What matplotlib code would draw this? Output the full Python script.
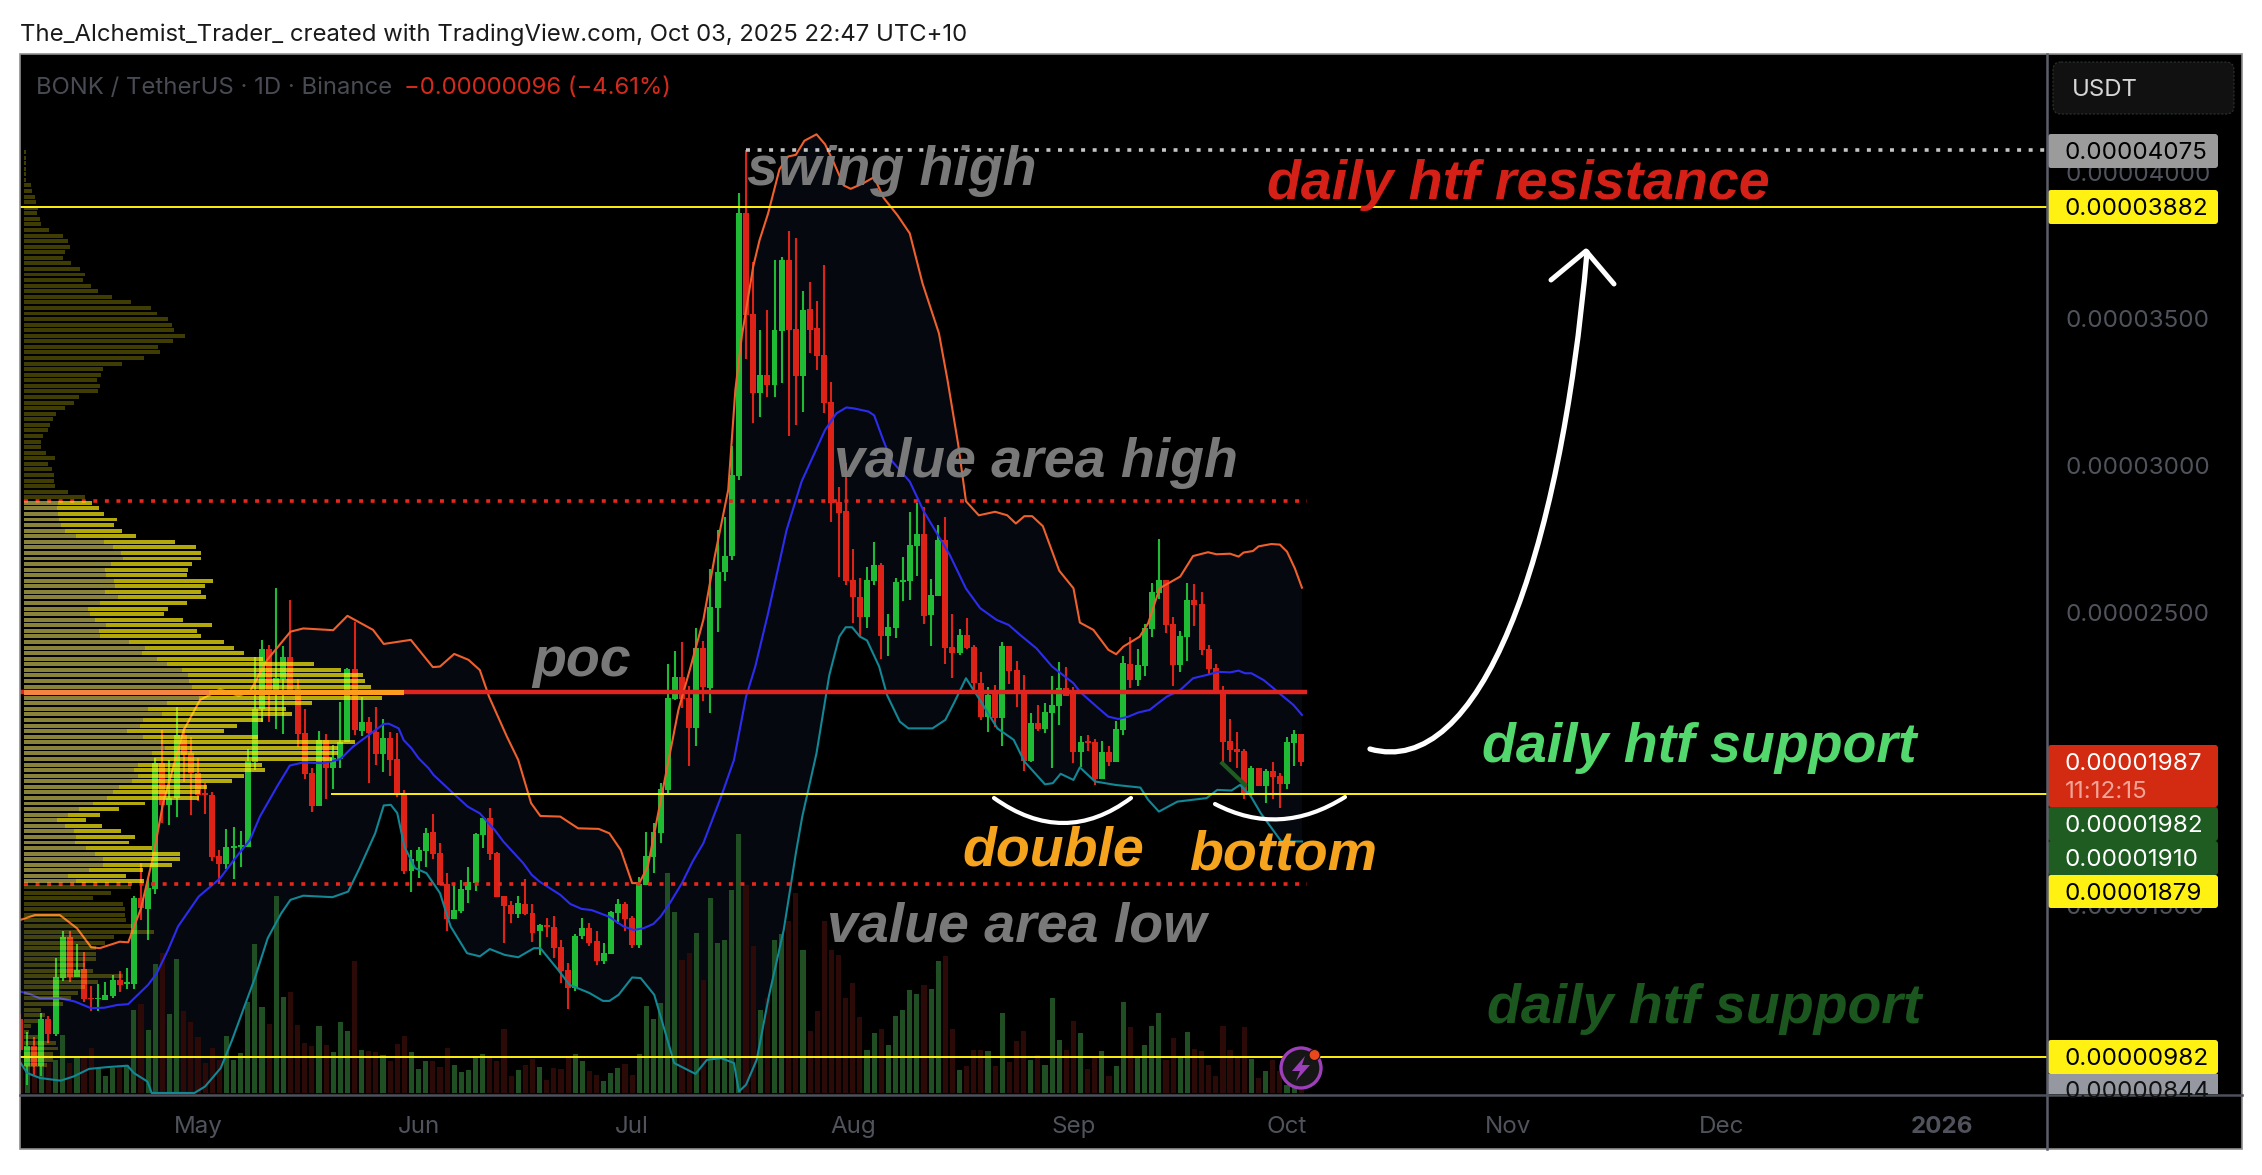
import matplotlib
matplotlib.use('Agg')
import matplotlib.pyplot as plt
import numpy as np
from matplotlib.patches import Rectangle, FancyBboxPatch, PathPatch, Circle, Polygon
from matplotlib.path import Path

# daily candles, price in units of 1e-5 USDT, first one is Apr 6
opens = [1.112,0.951,1.019,0.951,1.112,1.059,1.250,1.390,1.256,1.281,
         1.184,1.179,1.176,1.190,1.245,1.232,1.231,1.524,1.487,1.555,
         1.986,1.841,1.864,2.080,2.018,1.950,1.881,1.876,1.668,1.640,
         1.696,1.699,1.697,1.988,2.168,2.374,2.234,2.271,2.345,2.237,
         2.086,1.950,1.838,2.063,1.969,1.998,2.055,2.305,2.094,2.125,
         2.091,2.016,2.069,1.997,1.881,1.617,1.651,1.685,1.748,1.678,
         1.572,1.453,1.480,1.552,1.577,1.739,1.797,1.679,1.531,1.500,
         1.470,1.504,1.472,1.410,1.432,1.425,1.356,1.279,1.218,1.395,
         1.422,1.378,1.310,1.333,1.473,1.504,1.456,1.364,1.570,1.664,
         1.745,1.893,2.204,2.278,2.206,2.103,2.378,2.240,2.514,2.635,
         2.692,2.964,3.862,3.517,3.249,3.309,3.275,3.459,3.701,3.466,
         3.306,3.534,3.469,3.377,3.217,2.876,2.845,2.610,2.552,2.483,
         2.606,2.661,2.419,2.446,2.603,2.606,2.726,2.766,2.490,2.555,
         2.746,2.382,2.359,2.422,2.381,2.257,2.143,2.220,2.139,2.384,
         2.302,2.232,1.992,2.122,2.101,2.156,2.180,2.241,2.234,2.023,
         2.060,2.057,1.931,2.023,1.989,2.098,2.323,2.268,2.316,2.442,
         2.565,2.609,2.459,2.319,2.415,2.541,2.527,2.374,2.309,2.227,
         2.060,2.033,2.026,1.879,1.968,1.907,1.958,1.941,1.913,2.053,
         2.084]
closes = [1.006,1.019,0.951,1.112,1.059,1.254,1.390,1.256,1.279,1.179,
          1.179,1.183,1.193,1.245,1.228,1.238,1.524,1.490,1.558,1.986,
          1.841,1.864,2.080,2.012,1.950,1.876,1.876,1.665,1.640,1.697,
          1.702,1.704,1.992,2.168,2.374,2.234,2.274,2.345,2.234,2.084,
          1.947,1.838,2.063,1.969,2.002,2.055,2.304,2.098,2.126,2.088,
          2.016,2.069,1.995,1.879,1.617,1.657,1.688,1.746,1.674,1.569,
          1.453,1.483,1.555,1.579,1.743,1.797,1.674,1.527,1.497,1.470,
          1.506,1.470,1.406,1.432,1.424,1.354,1.275,1.218,1.395,1.422,
          1.371,1.310,1.336,1.477,1.504,1.453,1.364,1.572,1.668,1.750,
          1.895,2.206,2.278,2.204,2.103,2.378,2.244,2.516,2.637,2.692,
          2.968,3.862,3.514,3.249,3.309,3.275,3.462,3.701,3.462,3.306,
          3.531,3.462,3.374,3.213,2.872,2.838,2.606,2.552,2.482,2.610,
          2.661,2.419,2.449,2.603,2.609,2.729,2.766,2.487,2.558,2.746,
          2.377,2.359,2.422,2.377,2.257,2.143,2.218,2.139,2.384,2.299,
          2.231,1.992,2.122,2.101,2.159,2.183,2.241,2.214,2.023,2.057,
          2.054,1.931,2.023,1.989,2.101,2.326,2.268,2.319,2.446,2.568,
          2.609,2.456,2.319,2.418,2.541,2.524,2.371,2.306,2.230,2.057,
          2.029,2.023,1.879,1.968,1.907,1.958,1.937,1.913,2.057,2.084,
          1.987]
highs = [1.130,1.068,1.051,1.131,1.120,1.319,1.411,1.411,1.367,1.340,
         1.224,1.231,1.238,1.261,1.275,1.285,1.531,1.642,1.590,2.001,
         2.097,1.995,2.177,2.103,2.075,2.003,1.915,1.885,1.688,1.760,
         1.765,1.752,2.031,2.345,2.404,2.387,2.581,2.384,2.541,2.270,
         2.168,1.967,2.094,2.084,2.046,2.193,2.310,2.467,2.209,2.143,
         2.175,2.134,2.089,2.086,1.893,1.688,1.697,1.762,1.811,1.711,
         1.609,1.574,1.586,1.629,1.745,1.797,1.830,1.681,1.531,1.514,
         1.531,1.588,1.504,1.436,1.456,1.463,1.380,1.302,1.402,1.456,
         1.439,1.412,1.371,1.480,1.521,1.511,1.463,1.595,1.750,1.779,
         1.918,2.323,2.366,2.397,2.246,2.445,2.400,2.647,2.780,2.823,
         3.067,3.929,4.075,3.694,3.462,3.531,3.701,3.711,3.799,3.776,
         3.595,3.626,3.561,3.684,3.285,2.927,3.008,2.715,2.616,2.654,
         2.739,2.668,2.494,2.617,2.688,2.842,2.872,2.860,2.612,2.797,
         2.824,2.493,2.442,2.479,2.388,2.294,2.243,2.251,2.398,2.384,
         2.333,2.285,2.156,2.183,2.190,2.282,2.330,2.313,2.245,2.077,
         2.081,2.067,2.060,2.043,2.128,2.350,2.415,2.374,2.459,2.599,
         2.749,2.609,2.483,2.435,2.599,2.596,2.568,2.388,2.323,2.248,
         2.135,2.091,2.033,1.975,1.968,1.965,1.989,1.951,2.074,2.098,
         2.084]
lows = [1.000,0.886,0.917,0.917,1.029,1.055,1.241,1.239,1.256,1.171,
        1.140,1.140,1.176,1.183,1.204,1.214,1.214,1.449,1.381,1.538,
        1.779,1.773,1.802,1.921,1.807,1.855,1.811,1.652,1.572,1.622,
        1.589,1.631,1.697,1.961,2.125,2.126,2.101,2.084,2.220,2.040,
        1.930,1.818,1.838,1.862,1.895,1.968,2.060,2.080,2.077,1.918,
        1.978,1.955,1.941,1.870,1.606,1.543,1.591,1.630,1.657,1.569,
        1.413,1.453,1.474,1.508,1.549,1.696,1.654,1.526,1.372,1.440,
        1.457,1.466,1.375,1.330,1.392,1.321,1.233,1.146,1.208,1.385,
        1.361,1.296,1.299,1.333,1.436,1.412,1.354,1.354,1.570,1.611,
        1.713,1.882,2.200,2.172,1.975,2.043,2.198,2.157,2.433,2.607,
        2.676,2.951,3.364,3.146,3.167,3.235,3.235,3.282,3.099,3.138,
        3.183,3.383,3.326,3.180,2.808,2.621,2.593,2.462,2.414,2.446,
        2.593,2.340,2.350,2.412,2.538,2.540,2.622,2.459,2.384,2.555,
        2.323,2.275,2.353,2.374,2.234,2.132,2.089,2.107,2.043,2.255,
        2.176,1.959,1.989,2.094,2.087,1.968,2.115,2.212,1.985,1.970,
        2.026,1.910,1.931,1.975,1.989,2.081,2.241,2.248,2.282,2.415,
        2.545,2.429,2.248,2.295,2.333,2.452,2.354,2.285,2.220,1.989,
        1.989,1.968,1.862,1.873,1.907,1.849,1.862,1.832,1.896,1.975,
        1.975]
volumes = [33,30,30,33,30,33,58,30,35,37,45,25,17,25,28,28,83,89,63,129,
           140,79,134,82,71,56,30,45,33,57,33,40,91,149,86,69,197,96,101,68,
           50,47,67,48,41,71,62,132,43,42,41,38,32,49,57,41,24,32,32,26,
           45,28,21,23,36,39,35,32,64,17,23,28,34,26,13,25,24,37,39,32,
           22,18,12,20,25,29,18,39,87,74,90,220,181,133,140,160,113,195,150,153,
           203,259,208,147,83,95,153,159,172,200,143,62,82,172,143,138,95,110,76,43,
           60,64,48,77,83,103,99,108,104,132,137,64,23,27,43,43,42,27,80,31,
           52,62,33,38,28,95,53,43,72,60,24,36,42,17,27,91,66,37,48,67,
           80,33,55,37,61,44,42,28,17,67,43,35,66,34,15,22,33,22,8,7,3]

# bollinger bands, vertices (day index, price)
upper_n = [0,2.1,5.6,8,10,11.2,14,15.2,17,18.7,20.1,23,25.3,28.1,30.7,32.3,34.7,38,39.8,44,46,49.6,
           51.1,54.9,58,59,61,63,64.6,65.9,68.4,70,71.8,73.1,75.9,78.4,81.3,82.8,84.4,86,87,88.2,
           92.5,94.1,96,97.6,99.5,100.5,101.4,103,103.9,105.1,106.7,107.9,109,110.2,111.9,113.1,114.3,
           115.7,116.7,118.4,120,121.3,123.3,125,126.8,129.1,130.3,131.8,132.9,134.7,137,138.7,139.9,
           141.1,142.2,143.7,146,148,148.9,150.8,152.9,154,155,157.3,158.5,160.1,163,164.8,166.9,
           168.1,170,171.2,171.9,173.2,174,175.8,177,178,179.1,180.1]
upper = [1.449,1.466,1.466,1.421,1.356,1.353,1.375,1.373,1.489,1.665,1.847,2.097,2.200,2.236,2.214,2.228,2.336,2.433,2.444,2.438,2.487,2.439,
         2.391,2.405,2.312,2.314,2.357,2.337,2.302,2.211,2.075,1.995,1.848,1.804,1.802,1.762,1.760,1.745,1.688,1.575,1.575,1.632,
         2.166,2.303,2.473,2.689,2.917,3.258,3.440,3.678,3.769,3.860,4.011,4.054,4.060,4.108,4.130,4.096,4.035,
         3.956,3.944,3.962,3.984,3.914,3.853,3.792,3.621,3.451,3.292,3.073,2.878,2.830,2.842,2.830,2.802,
         2.827,2.827,2.793,2.641,2.581,2.464,2.439,2.371,2.356,2.382,2.416,2.462,2.581,2.621,2.691,2.704,
         2.697,2.699,2.689,2.703,2.708,2.724,2.732,2.730,2.706,2.649,2.583]
basis_n = [0,1.4,2.8,5.6,7.7,10,11.9,13.6,15.2,18,19.2,20.8,22.2,25.1,28.1,30.4,32.3,33.7,36.1,37.9,39.8,42.6,45,46.8,
           51.1,51.8,53.2,53.9,55,56,57.4,58.1,61.1,62.9,64.6,66.7,67.9,70.7,71.9,73,75.9,77.3,78.9,80.3,82.7,84.8,86.2,87.6,89,90,
           91.3,93,94.5,96,98.5,100.3,102,103.3,105.1,107.7,109.8,113.1,114.7,116.1,117.1,119.2,120,121.3,122.4,125,127,
           130.6,132.9,134.9,137.2,138.9,140.5,142.8,145,148,148.9,150.1,151.5,152.9,154.3,155.7,157.1,158.7,159.9,161.1,
           163,164.8,167.2,168.3,170,171.2,172.1,173,174.7,176.1,177.2,178.9,180.1]
basis = [1.205,1.196,1.182,1.182,1.171,1.148,1.150,1.159,1.162,1.228,1.267,1.347,1.427,1.529,1.591,1.665,1.722,1.802,1.904,1.976,1.987,1.984,1.998,2.041,
         2.118,2.119,2.103,2.063,2.035,2.001,1.967,1.944,1.876,1.836,1.813,1.756,1.717,1.643,1.603,1.580,1.535,1.504,1.487,1.483,1.461,1.427,1.415,1.421,1.436,1.461,
         1.507,1.575,1.649,1.711,1.870,1.995,2.211,2.314,2.496,2.780,2.945,3.121,3.178,3.198,3.195,3.184,3.171,3.085,3.018,2.945,2.842,
         2.696,2.580,2.513,2.473,2.456,2.422,2.376,2.314,2.257,2.228,2.202,2.172,2.143,2.135,2.143,2.157,2.166,2.189,2.211,
         2.234,2.274,2.288,2.296,2.294,2.300,2.291,2.291,2.268,2.240,2.217,2.183,2.149]
lower_n = [0.1,1,2.8,5.7,7.5,9.7,12.2,15.1,16,17.9,18.5,24.5,26,28.2,29.8,33,34.8,36.7,38,39.8,43.9,46.1,47.7,49.9,51.1,52.1,53,54,
           55.5,57.1,59,60.5,62.8,64.6,66,68.1,70,72.2,73.1,75.6,77.2,80,81.9,82.8,84.1,86,87.2,89.1,90,91.9,94.9,96.5,98.5,100.3,
           101,102,103.5,105.2,107.3,109,109.9,111.9,113.7,115.1,116,116.9,118,119,120.7,121.8,123.6,124.8,128.2,130,131.2,132.9,
           134.7,137.3,139.6,141.1,144,145.1,146.2,148,148.9,151,153.9,157.4,158.5,160,162.6,166.7,168.2,170.2,171.4,172.8,174.3,177.2,180.1]
lower = [0.961,0.927,0.910,0.901,0.915,0.941,0.947,0.952,0.927,0.898,0.859,0.859,0.881,0.944,1.040,1.251,1.387,1.472,1.518,1.532,1.527,1.546,1.626,1.745,1.840,1.842,1.814,1.700,
         1.626,1.609,1.541,1.427,1.336,1.325,1.350,1.330,1.322,1.353,1.353,1.279,1.228,1.200,1.173,1.173,1.194,1.253,1.251,1.194,1.120,0.961,0.924,0.972,0.978,0.961,
         0.864,0.887,0.972,1.188,1.416,1.677,1.802,2.018,2.285,2.416,2.448,2.448,2.416,2.403,2.314,2.217,2.126,2.103,2.103,2.132,2.189,2.274,
         2.206,2.103,2.064,1.990,1.912,1.916,1.948,1.927,1.970,1.922,1.910,1.901,1.859,1.819,1.853,1.865,1.893,1.891,1.910,1.876,1.814,1.717,1.717]

# fixed range volume profile, rows from the top, arbitrary volume units
profile_total = [4,4,4,4,4,4,15,18,24,27,31,29,36,38,56,87,98,103,92,87,105,125,136,132,150,166,197,239,284,298,
                 322,331,336,360,334,300,304,269,219,177,172,163,170,166,123,112,92,71,65,58,54,42,38,38,49,69,54,62,67,67,69,98,136,
                 152,168,179,208,201,219,251,338,385,396,396,376,367,365,423,405,396,407,365,322,313,356,421,387,
                 396,448,471,493,536,649,710,759,764,777,851,
                 802,644,586,600,536,477,448,524,741,704,703,691,533,540,493,467,410,395,393,271,213,170,139,174,217,248,235,286,349,349,331,266,228,269,
                 239,196,154,221,226,226,228,241,291,201,181,161,161,161,136,154,221,166,136,121,106,88,38,48,31,16,11,31,71,76,66,66,51]
# up volume part, only for the rows inside the value area
profile_up = [76,74,76,78,83,92,116,179,199,217,222,195,181,183,201,204,181,210,170,143,148,159,183,168,
              170,235,271,264,299,320,354,367,369,376,414,
              391,320,278,309,266,260,230,266,306,316,286,291,256,246,255,242,213,199,186,154,123,98,74,91,112,116,114,139,159,177,177,145,98,116]

resistance = 3.882
support_mid = 1.879
support_low = 0.982
swing_high = 4.075
poc = 2.227
vah = 2.880
val = 1.572

month_ticks = [25, 56, 86, 117, 148, 178, 209, 239, 270]
month_labels = ['May', 'Jun', 'Jul', 'Aug', 'Sep', 'Oct', 'Nov', 'Dec', '2026']
price_ticks = [1.0, 1.5, 2.0, 2.5, 3.0, 3.5, 4.0]

# colours
GREEN = '#1fbb35'
RED = '#dd2218'
YEL = '#fff112'
TICK = '#50535c'
SANS = ['Inter', 'Liberation Sans', 'DejaVu Sans']
FS = 17.4

W, H = 2262, 1175
fig = plt.figure(figsize=(W / 100, H / 100), dpi=100, facecolor='white')

# black panel behind everything
fig.add_artist(Rectangle((20 / W, 1 - 1149 / H), 2222 / W, 1095 / H, transform=fig.transFigure,
                         fc='black', ec='none', zorder=-5))

# main chart, one day is 7.118 px wide
L, R, T, B = 20.5, 2047, 54, 1095
ax = fig.add_axes([L / W, 1 - B / H, (R - L) / W, (B - T) / H], zorder=2)
ax.patch.set_visible(False)
ax.set_xlim((L - 20) / 7.118, (R - 20) / 7.118)
ax.set_ylim(0.852, 4.404)
for s in ax.spines.values():
    s.set_visible(False)

n = np.arange(len(opens))
o, c, h, l = map(np.array, (opens, closes, highs, lows))
up = c >= o
cols = np.where(up, GREEN, RED)

# band shade and volume sit below the candles, 1 volume unit = 1 px
ax_low = fig.add_axes(ax.get_position(), facecolor='black', zorder=1)
ax_low.set_xlim(ax.get_xlim())
ax_low.set_ylim(ax.get_ylim())
ax_low.set_xticks([])
ax_low.set_yticks([])
for s in ax_low.spines.values():
    s.set_visible(False)
ax_low.fill(np.r_[upper_n, lower_n[::-1]], np.r_[upper, lower[::-1]], color='#05090f', lw=0, zorder=1)
ax_vol = ax_low.twinx()
ax_vol.set_ylim(-2, B - T - 2)
ax_vol.set_yticks([])
for s in ax_vol.spines.values():
    s.set_visible(False)
ax_vol.bar(n, volumes, width=0.72, color=np.where(up, '#1f4f22', '#2c0a08'), linewidth=0, zorder=2)

# candles
ax.vlines(n, l, h, colors=cols, lw=1.5, zorder=3)
ax.bar(n, np.abs(c - o), bottom=np.minimum(o, c), width=0.84, color=cols, linewidth=0, zorder=3)

# bands
ax.plot(upper_n, upper, color='#f0602c', lw=1.5, zorder=4)
ax.plot(basis_n, basis, color='#2c2cf0', lw=1.5, zorder=4)
ax.plot(lower_n, lower, color='#128795', lw=1.5, zorder=4)

# levels
x0, x1 = ax.get_xlim()
x_end = 180.8
ax.plot([x0, x1], [resistance] * 2, color=YEL, lw=1.4, zorder=5)
ax.plot([(332 - 20) / 7.118, x1], [support_mid] * 2, color=YEL, lw=1.4, zorder=5)
ax.plot([x0, x1], [support_low] * 2, color=YEL, lw=1.4, zorder=5)
ax.plot([x0, x_end], [poc] * 2, color='#e02420', lw=3.2, solid_capstyle='butt', zorder=5)
for lev in (vah, val):
    ax.plot([0.6, x_end], [lev] * 2, color='#e8261c', lw=2.6, ls=(0, (1.1, 2.1)), dash_capstyle='butt', zorder=5)
ax.plot([102.0, x1], [swing_high] * 2, color='#c4c4c4', lw=2.6, ls=(0, (1.1, 2.1)), dash_capstyle='butt', zorder=5)
ax.plot([168.9, 172.1], [1.984, 1.910], color='#1f5c22', lw=3, zorder=5)

# volume profile on top of the candles
row_y = 4.0696 - 0.0190 * np.arange(len(profile_total))
left0 = (24 - 20) / 7.118
scale = 1 / 2.24 / 7.118
total = np.array(profile_total) * scale
first_va, last_va = 63, 131
poc_row = 97
for k, (y, w) in enumerate(zip(row_y, total)):
    if first_va <= k <= last_va:
        u = profile_up[k - first_va] * scale
        if k == poc_row:
            ax.barh(poc, u, left=left0, height=0.017, color='#f58442', linewidth=0, zorder=6)
            ax.barh(poc, w - u, left=left0 + u, height=0.017, color='#fd9c1e', linewidth=0, zorder=6)
        else:
            ax.barh(y, u, left=left0, height=0.0135, color='#cbc156', alpha=0.68, linewidth=0, zorder=6)
            ax.barh(y, w - u, left=left0 + u, height=0.0135, color=YEL, alpha=0.7, linewidth=0, zorder=6)
    else:
        ax.barh(y, w, left=left0, height=0.0135, color=YEL, alpha=0.25, linewidth=0, zorder=6)

# axes ticks
ax.yaxis.tick_right()
ax.set_yticks(price_ticks)
ax.set_yticklabels(['%.8f' % (t * 1e-5) for t in price_ticks], color=TICK, fontsize=FS, family=SANS)
ax.tick_params(axis='y', length=0, pad=13)
ax.set_xticks(month_ticks)
ax.set_xticklabels(month_labels, color=TICK, fontsize=FS, family=SANS)
ax.get_xticklabels()[-1].set_fontweight('bold')
ax.tick_params(axis='x', length=0, pad=15)

# overlay in pixel coordinates for the chrome and the drawn notes
page = fig.add_axes([0, 0, 1, 1], facecolor='none', zorder=10)
page.set_xlim(0, W)
page.set_ylim(H, 0)
page.axis('off')

page.add_patch(Rectangle((20, 54), 2222, 1095, fc='none', ec='#8e8e8e', lw=1.2))
page.plot([2047, 2047], [54, 1149], color='#5c5f68', lw=1.8)
page.plot([20, 2242], [1095, 1095], color='#4e515a', lw=1.8)

page.text(20, 35, 'The_Alchemist_Trader_ created with TradingView.com, Oct 03, 2025 22:47 UTC+10',
          fontsize=17.2, family=SANS, color='#1a1a1a', va='center', ha='left')
page.text(36, 88, 'BONK / TetherUS · 1D · Binance', fontsize=17.2, family=SANS, color='#484b53', va='center')
page.text(404, 88, '\u22120.00000096 (\u22124.61%)', fontsize=17.2, family=SANS, color='#d42a1c', va='center')

page.add_patch(FancyBboxPatch((2053, 62), 181, 52, boxstyle='round,pad=0,rounding_size=8', fc='#111111',
                              ec='#2b332f', lw=0.8, ls=(0, (2, 1.5))))
page.text(2072, 90, 'USDT', fontsize=17.2, family=SANS, color='#d6d6d6', va='center')

# stacked price labels on the scale
tags = [('0.00004075', 134, 168, '#9b9b9b', '#000000'),
        ('0.00003882', 190, 224, '#fff112', '#000000'),
        ('0.00001982', 807, 841, '#1f5c22', '#ffffff'),
        ('0.00001910', 841, 875, '#1f5c22', '#ffffff'),
        ('0.00001879', 875, 908, '#fff112', '#000000'),
        ('0.00000982', 1040, 1074, '#fff112', '#000000')]
for txt, y0, y1, fc, tc in tags:
    page.add_patch(FancyBboxPatch((2048, y0), 170, y1 - y0, boxstyle='round,pad=0,rounding_size=3', fc=fc, ec='none'))
    page.text(2065, (y0 + y1) / 2 + 2, txt, fontsize=FS, family=SANS, color=tc, va='center')
page.add_patch(FancyBboxPatch((2048, 745), 170, 62, boxstyle='round,pad=0,rounding_size=3', fc='#d32a12', ec='none'))
page.text(2065, 764, '0.00001987', fontsize=FS, family=SANS, color='white', va='center')
page.text(2065, 792, '11:12:15', fontsize=FS, family=SANS, color='#f2a596', va='center')
clip = Rectangle((2048, 1074), 170, 20, fc='#9598a1', ec='none')
page.add_patch(clip)
t = page.text(2065, 1092, '0.00000844', fontsize=FS, family=SANS, color='#111111', va='center')
t.set_clip_path(clip)

# notes
GREY = '#7e7e7e'
notes = [('swing high', 747, 171, GREY, 40),
         ('daily htf resistance', 1267, 185, RED, 40),
         ('value area high', 834, 463, GREY, 40),
         ('poc', 532, 662, GREY, 40),
         ('daily htf support', 1482, 748, '#55e070', 40),
         ('double', 962, 852, '#ffa91f', 40),
         ('bottom', 1189, 856, '#ffa91f', 40),
         ('value area low', 827, 927, GREY, 40),
         ('daily htf support', 1487, 1009, '#1c5a20', 40)]
for txt, x, y, col, fs in notes:
    page.text(x, y, txt, fontsize=fs, family=['Liberation Sans', 'DejaVu Sans'], weight='bold', style='italic',
              color=col, va='center', ha='left', alpha=0.97)

# hand drawn arcs and arrow
for p0, p1, p2 in [((994, 798), (1064, 848), (1131, 798)), ((1215, 804), (1280, 838), (1345, 797))]:
    page.add_patch(PathPatch(Path([p0, p1, p2], [Path.MOVETO, Path.CURVE3, Path.CURVE3]),
                             fc='none', ec='white', lw=3, capstyle='round'))
page.add_patch(PathPatch(Path([(1370, 749), (1480, 780), (1560, 560), (1587, 252)],
                              [Path.MOVETO, Path.CURVE4, Path.CURVE4, Path.CURVE4]),
                         fc='none', ec='white', lw=3.8, capstyle='round'))
page.plot([1551, 1586, 1614], [280, 251, 284], color='white', lw=3.6, solid_capstyle='round', solid_joinstyle='round')

# small flash badge
page.add_patch(Circle((1301, 1068), 20, fc='#161616', ec='#9c3fb8', lw=2.4))
page.add_patch(Polygon([(1305, 1056), (1292, 1071), (1300, 1071), (1296, 1081), (1310, 1065), (1302, 1065)],
                       closed=True, fc='#9c3fb8', ec='none'))
page.add_patch(Circle((1314.5, 1055), 5.5, fc='#e8481c', ec='#111111', lw=0.8))

fig.savefig('out.png', dpi=100, facecolor='white')
